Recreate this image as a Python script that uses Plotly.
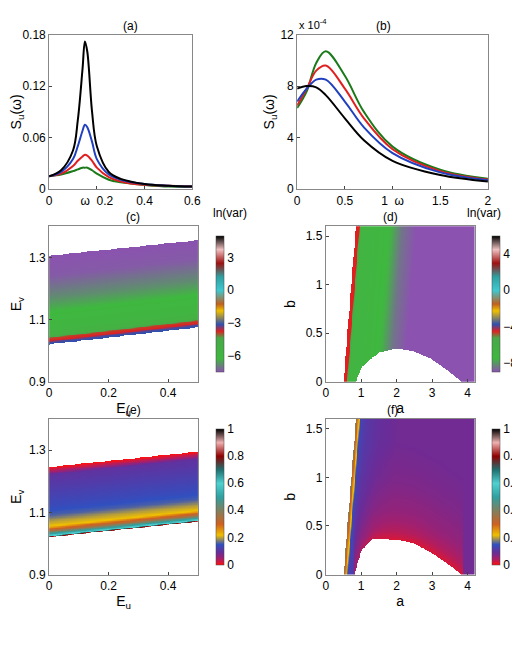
import numpy as np
import plotly.graph_objects as go

# ---- data ----
wa = [0, 0.05, 0.1, 0.12, 0.14, 0.15, 0.16, 0.18, 0.2, 0.25, 0.3, 0.4, 0.5, 0.6]
sa_black = [0.015, 0.022, 0.045, 0.08, 0.14, 0.172, 0.16, 0.09, 0.05, 0.02, 0.012, 0.006, 0.004, 0.003]
sa_blue = [0.015, 0.02, 0.035, 0.05, 0.068, 0.075, 0.072, 0.055, 0.035, 0.017, 0.011, 0.006, 0.004, 0.003]
sa_red = [0.015, 0.018, 0.027, 0.033, 0.038, 0.04, 0.039, 0.033, 0.025, 0.014, 0.009, 0.005, 0.004, 0.003]
sa_green = [0.015, 0.017, 0.021, 0.023, 0.025, 0.025, 0.025, 0.022, 0.018, 0.011, 0.008, 0.005, 0.003, 0.003]

wb = [0, 0.1, 0.2, 0.3, 0.5, 0.7, 1.0, 1.5, 2.0]
sb_black = [7.8, 8.0, 7.9, 7.3, 5.5, 3.8, 2.2, 1.1, 0.6]
sb_blue = [6.8, 7.8, 8.5, 8.5, 6.8, 4.8, 2.8, 1.3, 0.7]
sb_red = [6.5, 7.8, 9.2, 9.6, 7.8, 5.5, 3.1, 1.4, 0.75]
sb_green = [6.3, 7.6, 9.8, 10.7, 8.8, 6.0, 3.3, 1.5, 0.8]

# (c) band boundaries and profile of ln(var) above lower boundary
c_eu = [0, 0.5]
c_low = [1.02, 1.075]
c_up = [1.305, 1.355]
c_d = [0, 0.006, 0.012, 0.02, 0.03, 0.06, 0.1, 0.15, 0.22, 0.29]
c_val = [-3.1, -3.2, -3.75, -3.9, -5.5, -6, -6.2, -6.8, -7.4, -7.5]

# (e)
e_low = [1.02, 1.07]
e_up = [1.245, 1.295]
e_d = [0, 0.004, 0.01, 0.02, 0.035, 0.05, 0.07, 0.1, 0.15, 0.2, 0.21, 0.225]
e_val = [0.85, 0.6, 0.5, 0.35, 0.22, 0.2, 0.16, 0.14, 0.12, 0.1, 0.05, 0.0]

# (d)/(f) boundaries
left_b = [0, 1.6]
left_a = [0.5, 0.85]
d_dome_a = [0.85, 1.0, 1.5, 2.0, 2.5, 3.0, 3.5, 3.85]
d_dome_b = [0, 0.15, 0.31, 0.35, 0.32, 0.23, 0.1, 0]
d_dx = [0, 0.09, 0.16, 0.3, 0.6, 1.0, 1.3, 1.7]
d_val = [-4.5, -4.5, -7, -7, -7.2, -7.6, -8.5, -9]

f_dome_a = [0.8, 1.0, 1.3, 1.5, 1.7, 1.8, 2.0, 2.5, 3.0, 3.5, 3.85]
f_dome_b = [0, 0.25, 0.36, 0.38, 0.37, 0.36, 0.36, 0.32, 0.22, 0.1, 0]
f_dx = [0, 0.04, 0.09, 0.13, 0.3, 0.7, 1.2]
f_lval = [0.4, 0.3, 0.22, 0.13, 0.11, 0.095, 0.085]
f_dy = [0, 0.1, 0.3, 0.6, 1.0]
f_bval = [0.02, 0.04, 0.06, 0.075, 0.085]

cs_var = [[0, '#8b52b0'], [0.1, '#3fb83f'], [0.25, '#49a849'], [0.3, '#e02020'], [0.35, '#3050b0'],
          [0.45, '#f0c000'], [0.5, '#c06020'], [0.6, '#40c8d0'], [0.7, '#30a0a0'], [0.8, '#a01010'],
          [0.9, '#f0c0c0'], [1, '#000000']]
cs_f = [[0, '#ff1010'], [0.05, '#a02070'], [0.09, '#6a2c98'], [0.15, '#3050c0'], [0.22, '#f0c000'],
        [0.3, '#d06020'], [0.4, '#808060'], [0.5, '#30a0a0'], [0.6, '#50d0d0'], [0.7, '#207070'],
        [0.8, '#900000'], [0.9, '#f0b0b0'], [1, '#000000']]

# ---- grids ----
eu = np.linspace(0, 0.5, 101)
ev = np.linspace(0.9, 1.4, 251)
EU, EV = np.meshgrid(eu, ev)

def band(low, up, dd, vv):
    lo = np.interp(EU, c_eu, low)
    hi = np.interp(EU, c_eu, up)
    z = np.interp(EV - lo, dd, vv)
    z[(EV < lo) | (EV > hi)] = np.nan
    return z

zc = band(c_low, c_up, c_d, c_val)
ze = band(e_low, e_up, e_d, e_val)

aa = np.linspace(0, 4.2, 211)
bb = np.linspace(0, 1.6, 161)
A, B = np.meshgrid(aa, bb)
AL = np.interp(B, left_b, left_a)
zd = np.interp(A - AL, d_dx, d_val)
zd[(A < AL) | (B < np.interp(A, d_dome_a, d_dome_b, left=-1, right=-1))] = np.nan
fdome = np.interp(A, f_dome_a, f_dome_b, left=-1, right=-1)
zf = np.interp(A - AL, f_dx, f_lval) + np.interp(B - fdome, f_dy, f_bval) - 0.085
zf = np.clip(zf, 0, 1)
zf[(A < AL) | (B < fdome)] = np.nan

fig = go.Figure()
W, H = 520, 646
def px(x0, x1): return [x0 / W, x1 / W]
def py(y0, y1): return [1 - y1 / H, 1 - y0 / H]

font = dict(family='Liberation Sans, Arial', size=12, color='black')
axcommon = dict(showline=True, mirror=True, linecolor='#888', ticks='inside', ticklen=3,
                showgrid=False, zeroline=False, tickfont=dict(size=12))

panels = {
    'a': (px(40, 190), py(20, 178)), 'b': (px(300, 500), py(20, 178)),
    'c': (px(40, 196), py(216, 375)), 'd': (px(330, 486), py(216, 375)),
    'e': (px(40, 196), py(413, 572)), 'f': (px(330, 486), py(413, 572)),
}
names = ['a', 'b', 'c', 'd', 'e', 'f']
for i, n in enumerate(names):
    k = '' if i == 0 else str(i + 1)
    xd, yd = panels[n]
    fig.layout['xaxis' + k] = dict(domain=xd, anchor='y' + k, **axcommon)
    fig.layout['yaxis' + k] = dict(domain=yd, anchor='x' + k, **axcommon)
    fig.add_annotation(text='(%s)' % n, x=(xd[0] + xd[1]) / 2, y=yd[1], xref='paper', yref='paper',
                       yanchor='bottom', showarrow=False, font=dict(size=12))

for ys, col in [(sa_green, '#1a7a1a'), (sa_red, '#e02020'), (sa_blue, '#2040c0'), (sa_black, 'black')]:
    fig.add_trace(go.Scatter(x=wa, y=ys, mode='lines', line=dict(color=col, width=2, shape='spline'),
                             xaxis='x', yaxis='y', showlegend=False))
for ys, col in [(sb_green, '#1a7a1a'), (sb_red, '#e02020'), (sb_blue, '#2040c0'), (sb_black, 'black')]:
    fig.add_trace(go.Scatter(x=wb, y=ys, mode='lines', line=dict(color=col, width=2, shape='spline'),
                             xaxis='x2', yaxis='y2', showlegend=False))

def cb(n, ticks):
    xd, yd = panels[n]
    return dict(x=xd[1] + 8 / W, xanchor='left', y=yd[0], yanchor='bottom', len=yd[1] - yd[0],
                lenmode='fraction', thickness=8, tickvals=ticks, outlinewidth=0.5, ticks='',
                tickfont=dict(size=12))

fig.add_trace(go.Heatmap(x=eu, y=ev, z=zc, colorscale=cs_var, zmin=-7.5, zmax=5, xaxis='x3', yaxis='y3',
                         colorbar=cb('c', [-6, -3, 0, 3])))
fig.add_trace(go.Heatmap(x=aa, y=bb, z=zd, colorscale=cs_var, zmin=-9, zmax=6, xaxis='x4', yaxis='y4',
                         colorbar=cb('d', [-8, -4, 0, 4])))
fig.add_trace(go.Heatmap(x=eu, y=ev, z=ze, colorscale=cs_f, zmin=0, zmax=1, xaxis='x5', yaxis='y5',
                         colorbar=cb('e', [0, 0.2, 0.4, 0.6, 0.8, 1])))
fig.add_trace(go.Heatmap(x=aa, y=bb, z=zf, colorscale=cs_f, zmin=0, zmax=1, xaxis='x6', yaxis='y6',
                         colorbar=cb('f', [0, 0.2, 0.4, 0.6, 0.8, 1])))

for xr in [250, 516]:
    fig.add_annotation(text='ln(var)', x=xr / W, y=1 - 212 / H, xref='paper', yref='paper',
                       xanchor='right', yanchor='bottom', showarrow=False, font=dict(size=12))

L = fig.layout
L.xaxis.update(range=[0, 0.6], tickvals=[0, 0.2, 0.4, 0.6], ticktext=['0', 'ω  0.2', '0.4', '0.6'])
L.yaxis.update(range=[0, 0.18], tickvals=[0, 0.06, 0.12, 0.18], ticktext=['0', '0.06', '0.12', '0.18'],
               title=dict(text='S<sub>u</sub>(ω)', standoff=2))
L.xaxis2.update(range=[0, 2], tickvals=[0, 0.5, 1, 1.5, 2], ticktext=['0', '0.5', '1  ω', '1.5', '2'])
L.yaxis2.update(range=[0, 12], tickvals=[0, 4, 8, 12], title=dict(text='S<sub>u</sub>(ω)', standoff=2))
for k in ['3', '5']:
    L['xaxis' + k].update(range=[0, 0.5], tickvals=[0, 0.2, 0.4], title=dict(text='E<sub>u</sub>', standoff=0))
    L['yaxis' + k].update(range=[0.9, 1.4], tickvals=[0.9, 1.1, 1.3], title=dict(text='E<sub>v</sub>', standoff=4))
for k in ['4', '6']:
    L['xaxis' + k].update(range=[0, 4.2], tickvals=[0, 1, 2, 3, 4], title=dict(text='a', standoff=0))
    L['yaxis' + k].update(range=[0, 1.6], tickvals=[0, 0.5, 1, 1.5], title=dict(text='b', standoff=6))

fig.add_annotation(text='x 10<sup>-4</sup>', x=300 / W, y=1 - 18 / H, xref='paper', yref='paper',
                   xanchor='left', yanchor='bottom', showarrow=False, font=dict(size=11))

fig.update_layout(width=W, height=H, margin=dict(l=0, r=0, t=0, b=0), font=font,
                  plot_bgcolor='white', paper_bgcolor='white')
fig.write_html('out.html')
